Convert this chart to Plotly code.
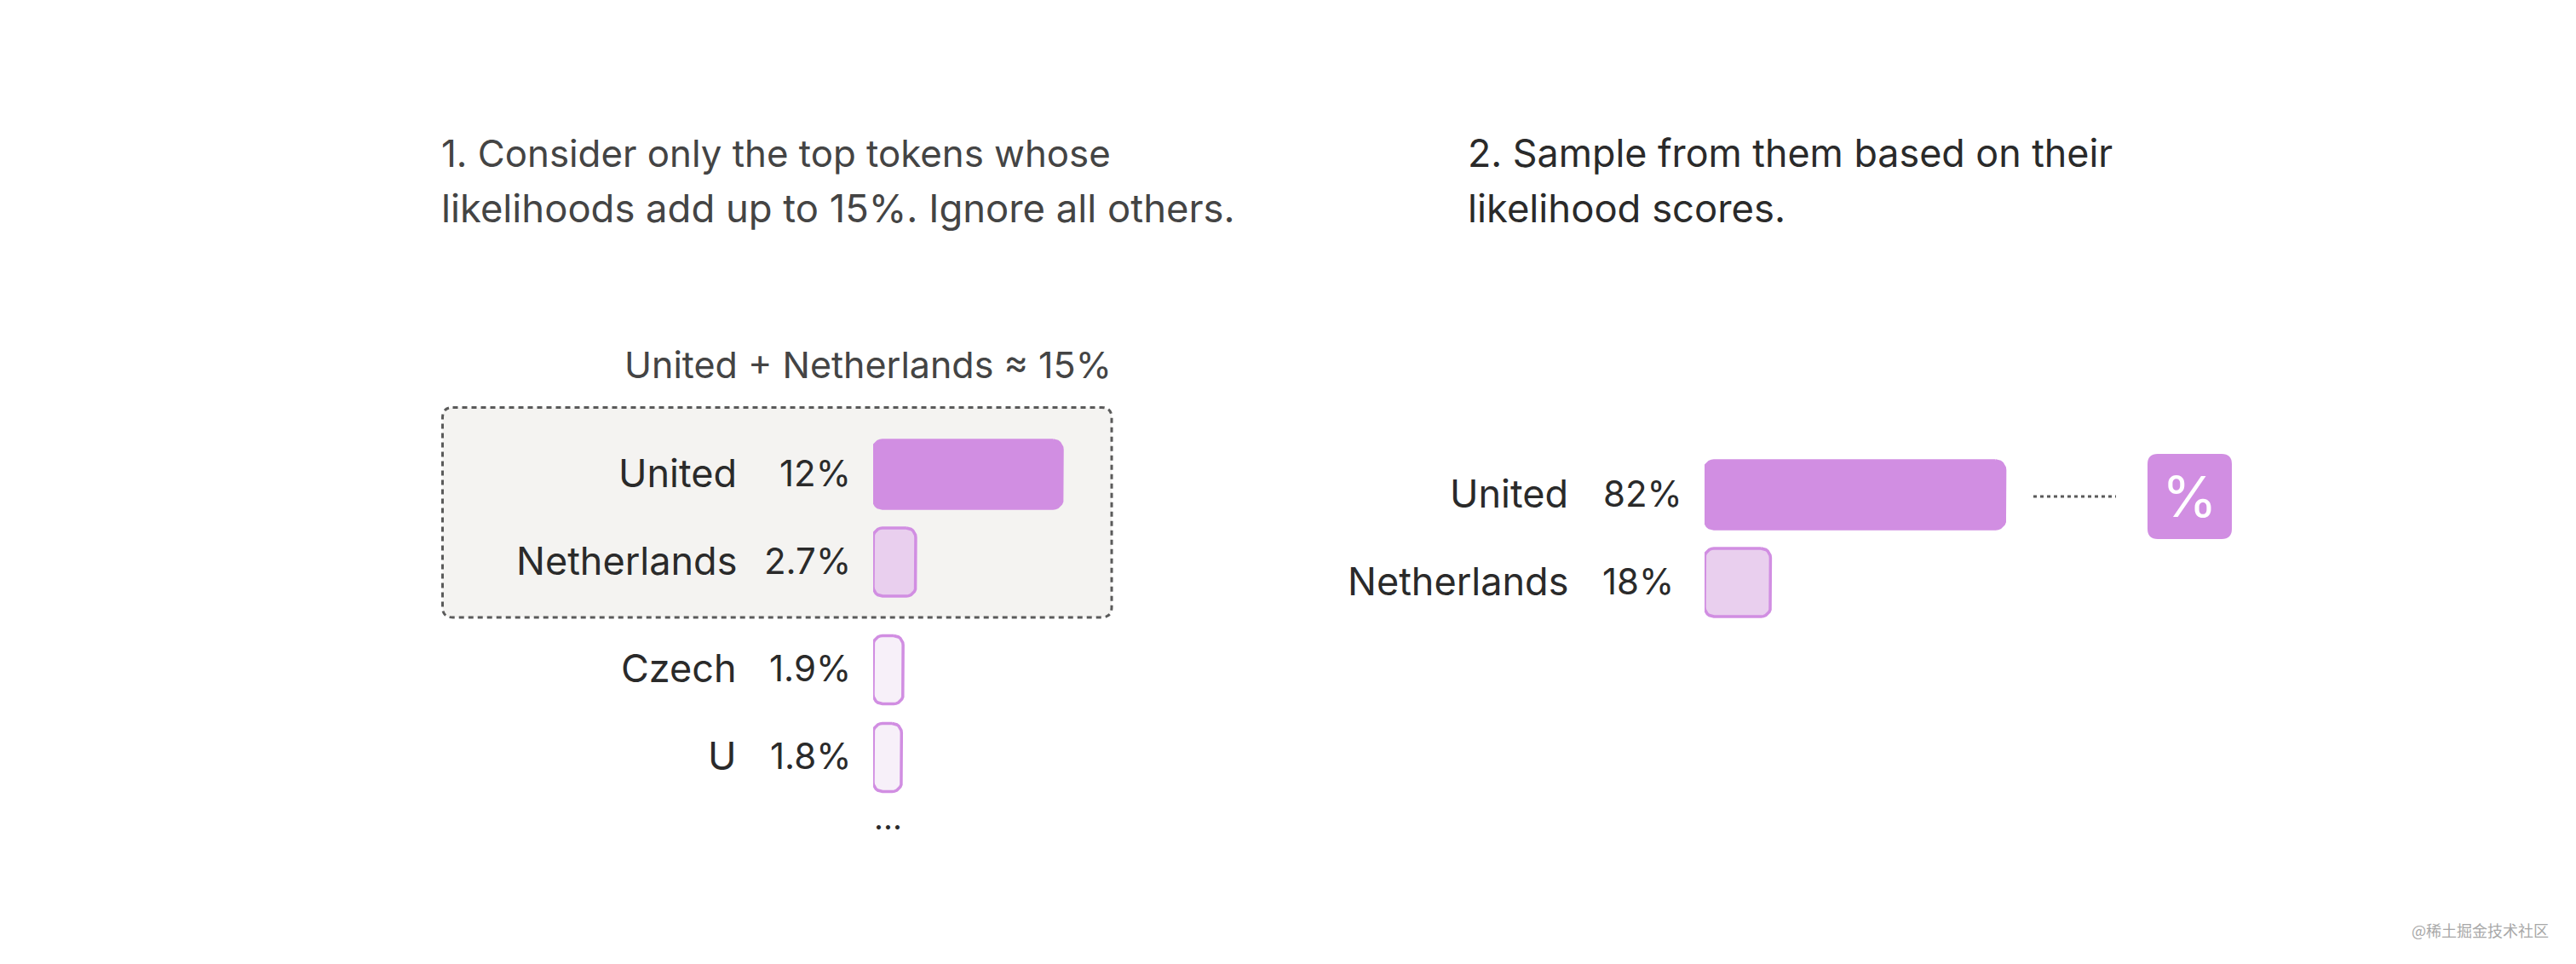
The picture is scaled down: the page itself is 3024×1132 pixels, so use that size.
import math
import plotly.graph_objects as go

W = 3024
H = 1132

# left chart
top_tokens = ['United', 'Netherlands']
top_likelihoods = [12, 2.7]
top_labels = ['12%', '2.7%']
rest_tokens = ['Czech', 'U']
rest_likelihoods = [1.9, 1.8]
rest_labels = ['1.9%', '1.8%']

# right chart
sample_tokens = ['United', 'Netherlands']
sample_likelihoods = [82, 18]
sample_labels = ['82%', '18%']

step_1 = ['1. Consider only the top tokens whose', 'likelihoods add up to 15%. Ignore all others.']
step_2 = ['2. Sample from them based on their', 'likelihood scores.']
sum_note = 'United + Netherlands \u2248 15%'

PURPLE = '#D18EE2'
MID = '#E9CFEE'
LIGHT = '#F7F0F9'
FONT = 'Inter'
LABEL_SIZE = 45
VALUE_SIZE = 42
TEXT_DARK = '#2A2A2A'
TEXT_GREY = '#444444'

ROW_PX = 103
BAR_PX = 80
RADIUS_PX = 11
LEFT_SCALE = 18.5  # px per percent
RIGHT_SCALE = 4.3


def px(x):
    return x / W


def py(y):
    return 1 - y / H


def round_rect(x0, y0, x1, y1, r):
    # rounded box as svg path, paper coords from pixels
    pts = [
        ('M', x0 + r, y0), ('L', x1 - r, y0), ('Q', x1, y0, x1, y0 + r),
        ('L', x1, y1 - r), ('Q', x1, y1, x1 - r, y1),
        ('L', x0 + r, y1), ('Q', x0, y1, x0, y1 - r),
        ('L', x0, y0 + r), ('Q', x0, y0, x0 + r, y0),
    ]
    out = ''
    for p in pts:
        nums = p[1:]
        coords = []
        for i in range(0, len(nums), 2):
            coords.append(f'{px(nums[i]):.5f},{py(nums[i + 1]):.5f}')
        out += p[0] + ' '.join(coords) + ' '
    return out + 'Z'


def text(x, y, s, anchor='left', size=LABEL_SIZE, color=TEXT_DARK, family=FONT):
    return dict(x=px(x), y=py(y), xref='paper', yref='paper', text=s, showarrow=False,
                xanchor=anchor, yanchor='middle', align=anchor,
                font=dict(family=family, size=size, color=color))


def rounded_bar(value, row, scale):
    # plotly's barcornerradius only rounds the far end, so trace the outline on the axes instead
    rx = RADIUS_PX / scale
    ry = RADIUS_PX / ROW_PX
    half = BAR_PX / ROW_PX / 2
    xs = []
    ys = []
    corners = [(value - rx, row - half + ry, -90), (value - rx, row + half - ry, 0),
               (rx, row + half - ry, 90), (rx, row - half + ry, 180)]
    for cx, cy, start in corners:
        for k in range(7):
            a = math.radians(start + k * 15)
            xs.append(cx + rx * math.cos(a))
            ys.append(cy + ry * math.sin(a))
    xs.append(xs[0])
    ys.append(ys[0])
    return xs, ys


fig = go.Figure()

groups = [
    ('x', 'y', top_tokens, top_likelihoods, [PURPLE, MID], LEFT_SCALE),
    ('x2', 'y2', rest_tokens, rest_likelihoods, [LIGHT, LIGHT], LEFT_SCALE),
    ('x3', 'y3', sample_tokens, sample_likelihoods, [PURPLE, MID], RIGHT_SCALE),
]
for xa, ya, tokens, values, colors, scale in groups:
    for row in range(len(tokens)):
        xs, ys = rounded_bar(values[row], row, scale)
        fig.add_trace(go.Scatter(x=xs, y=ys, xaxis=xa, yaxis=ya, mode='lines', name=tokens[row],
                                 fill='toself', fillcolor=colors[row], hoverinfo='name',
                                 line=dict(color=PURPLE, width=3.5)))

hidden = dict(visible=False, fixedrange=True)
left_dom = [px(1025), px(1025 + LEFT_SCALE * 13)]
right_dom = [px(2001), px(2001 + RIGHT_SCALE * 100)]

annotations = [
    text(516, 180, step_1[0], size=43.8, color=TEXT_GREY),
    text(516, 245, step_1[1], size=45.4, color=TEXT_GREY),
    text(1721, 180, step_2[0], size=44.8),
    text(1721, 245, step_2[1], size=45.4),
    text(1307, 428, sum_note, anchor='right', size=43, color=TEXT_GREY),
    text(1042, 960, '...', anchor='center', size=38),
    text(2570.5, 583, '%', anchor='center', size=66, color='#FFFFFF'),
    text(2994, 1092, '@稀土掘金技术社区', anchor='right', size=18, color='#A8A8A8',
         family='Noto Sans CJK SC'),
]

# row labels hang off the bars, on the same axes
for xa, ya, tokens, labels, name_x, value_x in [
    ('x', 'y', top_tokens, top_labels, -158, [-24, -24]),
    ('x2', 'y2', rest_tokens, rest_labels, -158, [-24, -24]),
    ('x3', 'y3', sample_tokens, sample_labels, -158, [-24, -34]),
]:
    for row in range(len(tokens)):
        annotations.append(dict(x=0, y=row, xref=xa, yref=ya, text=tokens[row], showarrow=False,
                                xanchor='right', xshift=name_x, yshift=2,
                                font=dict(family=FONT, size=LABEL_SIZE, color=TEXT_DARK)))
        annotations.append(dict(x=0, y=row, xref=xa, yref=ya, text=labels[row], showarrow=False,
                                xanchor='right', xshift=value_x[row], yshift=2,
                                font=dict(family=FONT, size=VALUE_SIZE, color=TEXT_DARK)))

rows = [-0.5, 1.5]
fig.update_layout(
    width=W, height=H,
    margin=dict(l=0, r=0, t=0, b=0),
    paper_bgcolor='#FFFFFF', plot_bgcolor='rgba(0,0,0,0)',
    showlegend=False,
    xaxis=dict(domain=left_dom, range=[0, 13], anchor='y', **hidden),
    yaxis=dict(domain=[py(711.5), py(505.5)], range=rows[::-1], anchor='x', **hidden),
    xaxis2=dict(domain=left_dom, range=[0, 13], anchor='y2', **hidden),
    yaxis2=dict(domain=[py(941), py(735)], range=rows[::-1], anchor='x2', **hidden),
    xaxis3=dict(domain=right_dom, range=[0, 100], anchor='y3', **hidden),
    yaxis3=dict(domain=[py(735.5), py(529.5)], range=rows[::-1], anchor='x3', **hidden),
    annotations=annotations,
    shapes=[
        dict(type='path', xref='paper', yref='paper', layer='below',
             path=round_rect(519.5, 478.5, 1305, 725, 12), fillcolor='#F4F3F1',
             line=dict(color='#5A5A5A', width=3, dash='6px,5px')),
        dict(type='path', xref='paper', yref='paper', layer='below',
             path=round_rect(2521, 533, 2620, 633, 12), fillcolor=PURPLE, line=dict(width=0)),
        dict(type='line', xref='paper', yref='paper', x0=px(2387), x1=px(2484), y0=py(583), y1=py(583),
             line=dict(color='#5A5A5A', width=3, dash='4px,4px')),
    ],
)

fig.write_html("out.html", post_script="document.body.style.margin='0';", config={'displayModeBar': False})
